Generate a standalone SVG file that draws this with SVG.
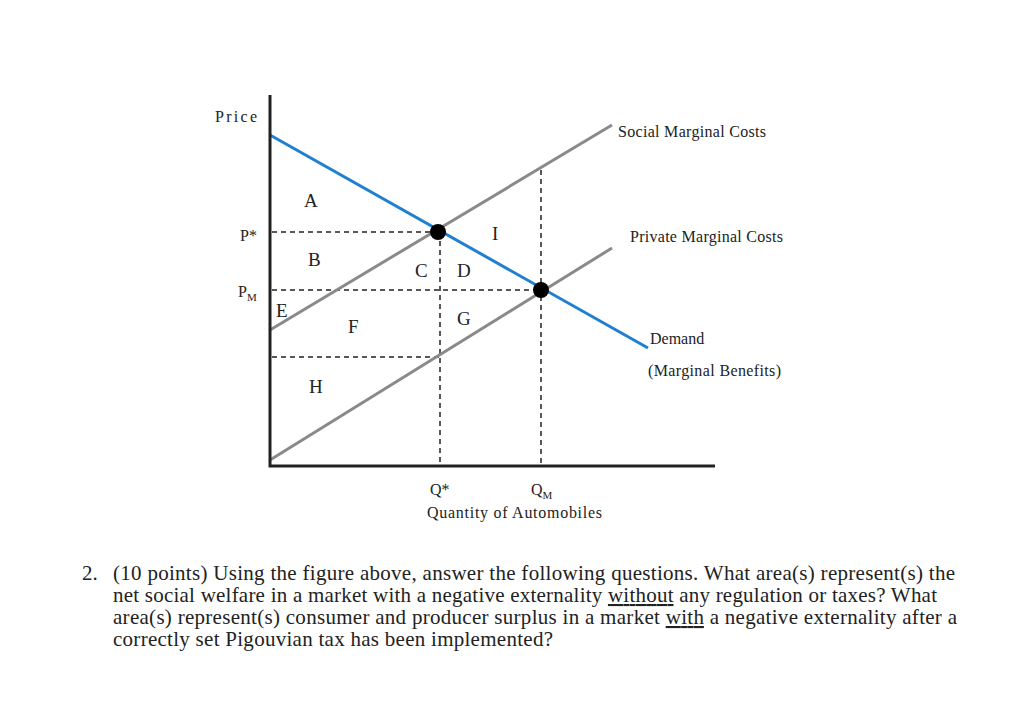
<svg xmlns="http://www.w3.org/2000/svg" width="1024" height="726" viewBox="0 0 1024 726">
<style>
text{font-family:"Liberation Serif","Times New Roman",serif;fill:#222}
.s{font-size:16px}.l{font-size:19px}.p{font-size:21px}
.d{stroke:#222;stroke-width:1.5;stroke-dasharray:5,4;fill:none}
.g{stroke:#8a8a8a;stroke-width:3;fill:none}
</style>
<rect width="1024" height="726" fill="#fff"/>
<g id="connectors">
<path class="d" d="M272 232H438M272 290H541M272 357H440M440 232V465M541 170V465"/>
<path class="g" d="M270 330L612 125"/>
<path class="g" d="M270 460L612 248"/>
<path d="M270 135L648 348" stroke="#1f7fd0" stroke-width="3" fill="none"/>
<path d="M270 95V466H715" stroke="#222" stroke-width="3" fill="none"/>
</g>
<g id="points"><circle cx="438" cy="232" r="8" fill="#000"/><circle cx="541" cy="290" r="8" fill="#000"/></g>
<g id="labels">
<text class="s" x="215" y="122" textLength="42">Price</text>
<text class="s" x="240" y="241">P*</text>
<text class="s" x="238" y="297">P<tspan font-size="11" dy="4">M</tspan></text>
<text class="l" x="304" y="207">A</text>
<text class="l" x="308" y="266">B</text>
<text class="l" x="415" y="277">C</text>
<text class="l" x="457" y="277">D</text>
<text class="l" x="492" y="240">I</text>
<text class="l" x="276" y="317">E</text>
<text class="l" x="348" y="333">F</text>
<text class="l" x="457" y="325">G</text>
<text class="l" x="309" y="393">H</text>
<text class="s" x="430" y="495">Q*</text>
<text class="s" x="531" y="495">Q<tspan font-size="11" dy="4">M</tspan></text>
<text class="s" x="427" y="518" textLength="175">Quantity of Automobiles</text>
<text class="s" x="618" y="137" textLength="148">Social Marginal Costs</text>
<text class="s" x="630" y="242" textLength="153">Private Marginal Costs</text>
<text class="s" x="650" y="344">Demand</text>
<text class="s" x="648" y="376" textLength="133">(Marginal Benefits)</text>
</g>
<g id="question">
<text class="p" x="82" y="580">2.</text>
<text class="p" x="113" y="580" textLength="842">(10 points) Using the figure above, answer the following questions. What area(s) represent(s) the</text>
<text class="p" x="113" y="602" textLength="824">net social welfare in a market with a negative externality <tspan text-decoration="underline">without</tspan> any regulation or taxes? What</text>
<text class="p" x="113" y="624" textLength="844">area(s) represent(s) consumer and producer surplus in a market <tspan text-decoration="underline">with</tspan> a negative externality after a</text>
<text class="p" x="113" y="646" textLength="440">correctly set Pigouvian tax has been implemented?</text>
</g>
</svg>
